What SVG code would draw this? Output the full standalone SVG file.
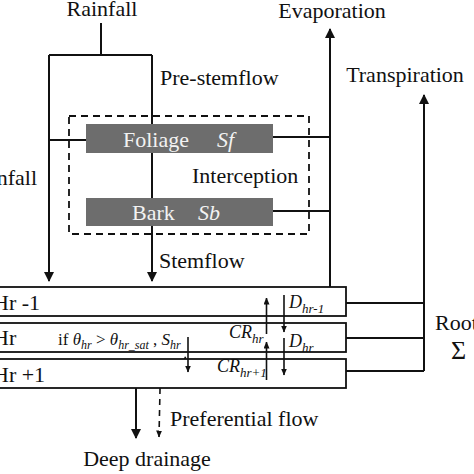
<svg xmlns="http://www.w3.org/2000/svg" width="474" height="474" viewBox="0 0 474 474">
<style>
text{font-family:"Liberation Serif","Times New Roman",serif;fill:#111}
.t{font-size:22px}
.lbl{font-size:18px}
.it{font-style:italic}
.sub{font-size:13px;font-style:italic}
.ln{stroke:#111;stroke-width:2;fill:none}
.thin{stroke:#111;stroke-width:1.6;fill:none}
.box{fill:#6d6d6d}
.boxt{font-size:22px;fill:#f2f2f2}
.layer{fill:#fff;stroke:#111;stroke-width:1.8}
</style>
<defs>
<marker id="ah" markerWidth="10" markerHeight="10" refX="9" refY="5" orient="auto" markerUnits="userSpaceOnUse">
<path d="M0,0 L10,5 L0,10 z" fill="#111"/>
</marker>
<marker id="sh" markerWidth="7" markerHeight="6" refX="6.5" refY="3" orient="auto" markerUnits="userSpaceOnUse">
<path d="M0,0 L7,3 L0,6 z" fill="#111"/>
</marker>
</defs>
<rect width="474" height="474" fill="#fff"/>

<g id="connectors">
<path class="ln" d="M101,23 V55"/>
<path class="ln" d="M49,55 H152"/>
<path class="ln" d="M49,55 V281" marker-end="url(#ah)"/>
<path class="ln" d="M152,55 V281" marker-end="url(#ah)"/>
<path class="ln" d="M49,140 H86"/>
<path class="ln" d="M273,137 H330"/>
<path class="ln" d="M273,211 H330"/>
<path class="ln" d="M330,287 V29" marker-end="url(#ah)"/>
<path class="ln" d="M346,303 H424"/>
<path class="ln" d="M346,338 H424"/>
<path class="ln" d="M346,371 H424"/>
<path class="ln" d="M424,371 V95" marker-end="url(#ah)"/>
<path class="ln" d="M136,376 V438" marker-end="url(#ah)"/>
<path class="thin" d="M188,346 C186,364 178,368 170,369 C163,371 160,378 160,390 L159,437" stroke-dasharray="6,5" marker-end="url(#sh)"/>
</g>

<g id="interception">
<rect x="69" y="116" width="240" height="118" fill="none" stroke="#111" stroke-width="1.8" stroke-dasharray="7,5"/>
<text class="t" x="192" y="183">Interception</text>
</g>

<g id="foliage">
<rect class="box" x="86" y="124" width="187" height="29"/>
<text class="boxt" x="123" y="147">Foliage</text>
<text class="boxt it" x="217" y="147">Sf</text>
</g>

<g id="bark">
<rect class="box" x="86" y="198" width="187" height="28"/>
<text class="boxt" x="132" y="220">Bark</text>
<text class="boxt it" x="198" y="220">Sb</text>
</g>

<g id="layer-hr-1">
<rect class="layer" x="-10" y="287" width="356" height="29"/>
<text class="t" x="-7" y="310">Hr -1</text>
</g>
<g id="layer-hr">
<rect class="layer" x="-10" y="323" width="356" height="29"/>
<text class="t" x="-7" y="345">Hr</text>
</g>
<g id="layer-hr+1">
<rect class="layer" x="-10" y="359" width="356" height="29"/>
<text class="t" x="-7" y="382">Hr +1</text>
</g>

<g id="fluxes">
<path class="thin" d="M266.5,334 V298" marker-end="url(#sh)"/>
<path class="thin" d="M284,295 V332" marker-end="url(#sh)"/>
<path class="thin" d="M266.5,380 V342" marker-end="url(#sh)"/>
<path class="thin" d="M284,338 V375" marker-end="url(#sh)"/>
<path class="thin" d="M188,337 V372" marker-end="url(#sh)"/>
<text class="lbl it" x="289" y="308">D<tspan class="sub" dy="5">hr-1</tspan></text>
<text class="lbl it" x="289" y="347">D<tspan class="sub" dy="5">hr</tspan></text>
<text class="lbl it" x="229" y="338">CR<tspan class="sub" dy="5">hr</tspan></text>
<text class="lbl it" x="217" y="372">CR<tspan class="sub" dy="5">hr+1</tspan></text>
<text style="font-size:17px" x="58" y="345">if <tspan class="it">θ</tspan><tspan class="it" style="font-size:12px" dy="4">hr</tspan><tspan dy="-4"> &gt; </tspan><tspan class="it">θ</tspan><tspan class="it" style="font-size:12px" dy="4">hr_sat</tspan><tspan dy="-4"> , </tspan><tspan class="it">S</tspan><tspan class="it" style="font-size:12px" dy="4">hr</tspan></text>
</g>

<g id="labels">
<text class="t" x="102" y="16" text-anchor="middle">Rainfall</text>
<text class="t" x="160" y="85">Pre-stemflow</text>
<text class="t" x="37" y="185" text-anchor="end">Rainfall</text>
<text class="t" x="159" y="268">Stemflow</text>
<text class="t" x="332" y="18" text-anchor="middle">Evaporation</text>
<text class="t" x="405" y="82" text-anchor="middle">Transpiration</text>
<text class="t" x="435" y="330">Root</text>
<text style="font-size:26px" x="451" y="359">Σ</text>
<text class="t" x="170" y="426">Preferential flow</text>
<text class="t" x="147" y="466" text-anchor="middle">Deep drainage</text>
</g>
</svg>
